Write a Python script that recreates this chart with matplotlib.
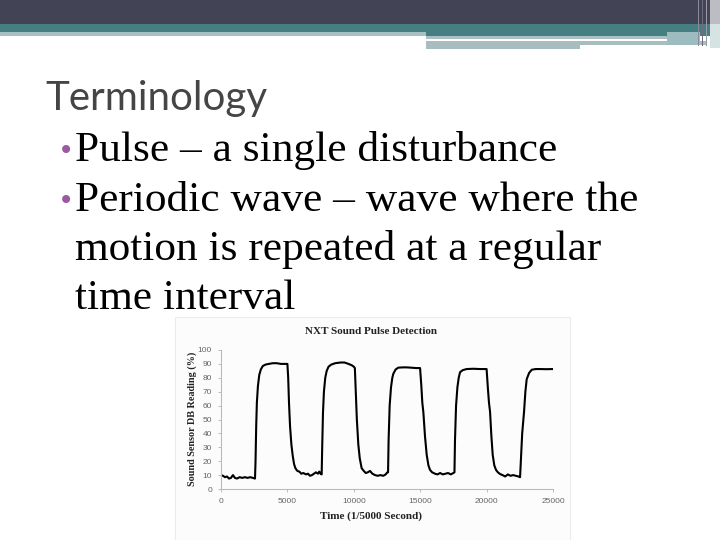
import matplotlib
matplotlib.use("Agg")
import matplotlib.pyplot as plt
from matplotlib.patches import Rectangle

# ---------------- data ----------------
time_ticks = [0, 5000, 10000, 15000, 20000, 25000]
time_tick_labels = ["0", "5000", "10000", "15000", "20000", "25000"]
level_ticks = [0, 10, 20, 30, 40, 50, 60, 70, 80, 90, 100]

time = [
    0, 150, 300, 450, 600, 750, 900, 1050, 1200, 1400, 1600, 1800, 2000, 2200, 2400, 2560,
    2600, 2650, 2700, 2780, 2880, 3000, 3150, 3350, 3600, 3900, 4200, 4500, 4800, 5000,
    5060, 5120, 5200, 5300, 5400, 5500, 5600, 5750, 5900, 6050, 6200, 6400, 6550, 6700,
    6850, 7000, 7150, 7300, 7400, 7500, 7580,
    7620, 7680, 7750, 7850, 7960, 8100, 8300, 8600, 9000, 9300, 9600, 9850, 10000, 10080,
    10150, 10230, 10340, 10450, 10590, 10750, 10900, 11050, 11220, 11400, 11600, 11800,
    12000, 12220, 12400, 12520, 12580,
    12620, 12700, 12800, 12900, 12980, 13150, 13350, 13700, 14000, 14400, 14700, 14990,
    15080, 15160, 15240, 15360, 15490, 15620, 15740, 15900, 16110, 16300, 16500, 16700,
    16900, 17100, 17300, 17500, 17580,
    17620, 17700, 17800, 17900, 18000, 18200, 18500, 19000, 19500, 20000,
    20100, 20180, 20260, 20360, 20460, 20580, 20710, 20850, 21010, 21200, 21400, 21600,
    21800, 22000, 22200, 22400, 22520,
    22580, 22680, 22820, 22920, 23020, 23200, 23400, 23700, 24000, 24500, 25000,
]
reading = [
    10, 9.5, 8.5, 9, 7.5, 8, 10, 8, 7.5, 8.5, 8, 8.5, 8, 8.5, 8, 7.5,
    20, 45, 62, 74, 82, 86, 88.5, 89.5, 90, 90.5, 90.5, 90, 90, 90,
    80, 62, 45, 32, 24, 18, 15, 13, 12.5, 11, 11.5, 10.5, 11, 9.5,
    10, 11, 12, 11, 12.5, 11, 10.5,
    30, 55, 70, 80, 85, 88, 89.5, 90.5, 91, 91, 90, 89, 88, 87,
    70, 50, 32, 22, 15, 13, 11.5, 12, 13, 11, 10, 9.5,
    10, 9.5, 10.5, 12, 12,
    35, 60, 73, 80, 83, 86, 87.3, 87.5, 87.5, 87.2, 87, 87,
    75, 62, 55, 38, 24.5, 17, 13.7, 12, 11, 10.5, 11.5, 10.5,
    11, 11.5, 10.5, 11.5, 12,
    35, 60, 73, 80, 84, 85.5, 86.3, 86.5, 86.3, 86.3,
    72, 62, 55.6, 38, 24.5, 17, 13.7, 12, 10.8, 10, 9, 10.5,
    9.5, 10, 9.5, 9, 8.5,
    20, 40, 55.6, 70, 79, 83.5, 85.8, 86.3, 86.3, 86.2, 86.3,
]

title_text = "Terminology"
bullet_lines = [
    ("\u2022", "Pulse \u2013 a single disturbance"),
    ("\u2022", "Periodic wave \u2013 wave where the"),
    ("", "motion is repeated at a regular"),
    ("", "time interval"),
]
chart_title = "NXT Sound Pulse Detection"
x_label = "Time (1/5000 Second)"
y_label = "Sound Sensor DB Reading (%)"

# ---------------- figure ----------------
W, H = 720, 540
fig = plt.figure(figsize=(7.2, 5.4), dpi=100)
fig.patch.set_facecolor("white")

bg = fig.add_axes([0, 0, 1, 1])
bg.set_xlim(0, W)
bg.set_ylim(H, 0)
bg.axis("off")

def rect(x0, y0, x1, y1, color):
    bg.add_patch(Rectangle((x0, y0), x1 - x0, y1 - y0, facecolor=color,
                           edgecolor="none", lw=0))

# header bars
rect(0, 0, 710, 24, "#434356")
rect(0, 24, 710, 32, "#467f82")
rect(0, 32, 426, 36, "#a6c0c3")
rect(426, 32, 710, 36, "#467f82")
rect(426, 36, 667, 38.7, "#a9c1c4")
rect(426, 41.3, 580, 48.7, "#a8bdc0")
rect(580, 41.3, 707, 45.3, "#a8bdc0")
rect(667, 32, 700, 45, "#9dbcbf")
rect(710, 0, 720, 24, "#bcbcc4")
rect(710, 24, 720, 48, "#d6e3e3")
for xv, c in [(698, "#8a8a98"), (702, "#6c6c7c"), (706, "#9a9aa6")]:
    rect(xv, 0, xv + 1.2, 46, c)

# slide text
bg.text(45, 110, title_text, fontsize=29, family="Lato", color="#454545",
        va="baseline", ha="left")
baselines = [161, 211, 260, 309]
for (b, line), yb in zip(bullet_lines, baselines):
    if b:
        bg.text(66, yb - 10, b, fontsize=20, color="#9b5aa0", ha="center",
                va="center", family="DejaVu Sans")
    bg.text(75, yb, line, fontsize=31.2, family="Liberation Serif",
            color="black", va="baseline", ha="left")

# embedded chart picture background
bg.add_patch(Rectangle((175, 317), 395, 223, facecolor="#fcfcfc",
                       edgecolor="#ececec", lw=0.8))
bg.text(371, 331, chart_title, fontsize=8, family="Liberation Serif",
        fontweight="bold", color="#222222", ha="center", va="center")
bg.text(371, 516, x_label, fontsize=8, family="Liberation Serif",
        fontweight="bold", color="#222222", ha="center", va="center")
bg.text(192, 418.5, y_label, fontsize=7.3, family="Liberation Serif",
        fontweight="bold", color="#222222", ha="center", va="center",
        rotation=90)

# chart axes
ax = fig.add_axes([221 / W, 1 - 489 / H, (553 - 221) / W, (489 - 350) / H])
ax.set_facecolor("none")
ax.plot(time, reading, color="black", lw=1.5, solid_joinstyle="round")
ax.set_xlim(0, 25000)
ax.set_ylim(0, 100)
ax.set_xticks(time_ticks)
ax.set_xticklabels(time_tick_labels)
ax.set_yticks(level_ticks)
for s in ["top", "right"]:
    ax.spines[s].set_visible(False)
for s in ["left", "bottom"]:
    ax.spines[s].set_color("#bbbbbb")
    ax.spines[s].set_linewidth(0.8)
ax.tick_params(axis="both", colors="#bbbbbb", length=2.5, width=0.7,
               labelsize=6, labelcolor="#666666", pad=4)
for lab in ax.get_xticklabels() + ax.get_yticklabels():
    lab.set_family("Liberation Sans")

fig.savefig("out.png", dpi=100, facecolor="white")
